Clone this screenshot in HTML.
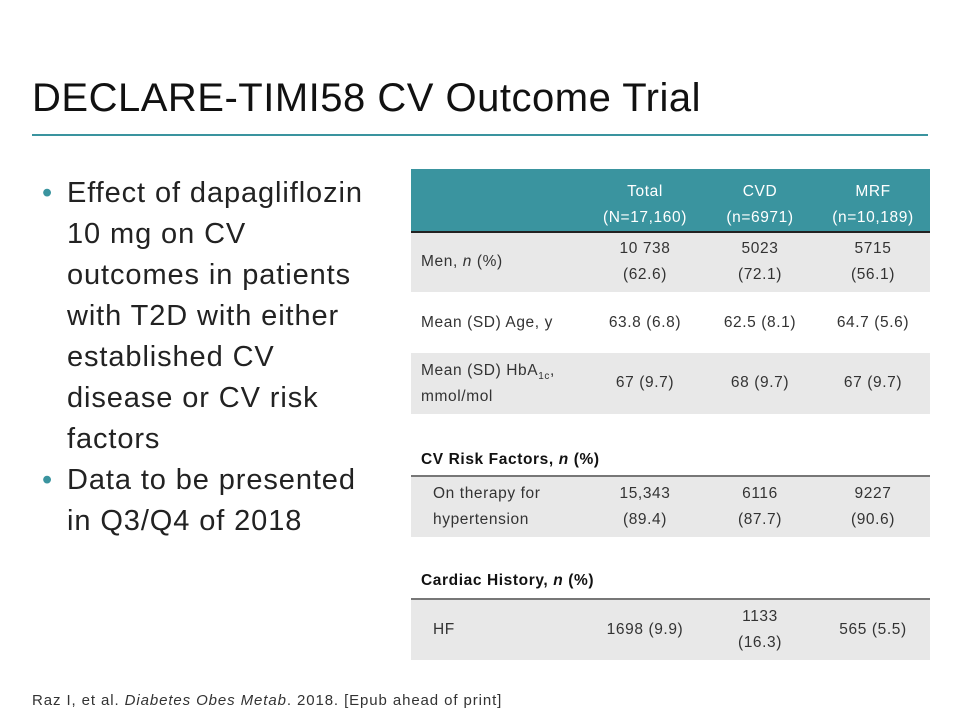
<!DOCTYPE html>
<html><head><meta charset="utf-8"><style>
body{margin:0;width:960px;height:720px;background:#fff;position:relative;overflow:hidden;font-family:"Liberation Sans",sans-serif;color:#222}
.a{position:absolute}
.t{font-size:15.5px;line-height:26px;color:#333;letter-spacing:0.6px;white-space:nowrap}
.c{text-align:center;width:120px}
.w{color:#fff}
</style></head><body>
<div class="a" style="left:32px;top:76px;font-size:40px;color:#111;letter-spacing:0.5px">DECLARE-TIMI58 CV Outcome Trial</div>
<div class="a" style="left:32px;top:134px;width:896px;height:2px;background:#3a949f"></div>
<div class="a" style="left:42px;top:173px;font-size:29px;line-height:41px;color:#222;width:360px;letter-spacing:0.9px;white-space:nowrap">
<div style="position:relative;padding-left:25px"><span style="position:absolute;left:0;color:#3a949f">•</span>Effect of dapagliflozin<br>10 mg on CV<br>outcomes in patients<br>with T2D with either<br>established CV<br>disease or CV risk<br>factors</div>
<div style="position:relative;padding-left:25px"><span style="position:absolute;left:0;color:#3a949f">•</span>Data to be presented<br>in Q3/Q4 of 2018</div>
</div>
<div class="a" style="left:411px;top:169px;width:519px;height:62px;background:#3a949f"></div>
<div class="a" style="left:411px;top:231px;width:519px;height:2px;background:#222"></div>
<div class="a" style="left:411px;top:233px;width:519px;height:59px;background:#e8e8e8"></div>
<div class="a" style="left:411px;top:353px;width:519px;height:61px;background:#e8e8e8"></div>
<div class="a" style="left:411px;top:475px;width:519px;height:2px;background:#777"></div>
<div class="a" style="left:411px;top:477px;width:519px;height:60px;background:#e8e8e8"></div>
<div class="a" style="left:411px;top:598px;width:519px;height:2px;background:#777"></div>
<div class="a" style="left:411px;top:600px;width:519px;height:60px;background:#e8e8e8"></div>

<div class="a t c w" style="left:585px;top:179px">Total<br>(N=17,160)</div>
<div class="a t c w" style="left:700px;top:179px">CVD<br>(n=6971)</div>
<div class="a t c w" style="left:813px;top:179px">MRF<br>(n=10,189)</div>

<div class="a t" style="left:421px;top:249px">Men, <i>n</i> (%)</div>
<div class="a t c" style="left:585px;top:236px">10 738<br>(62.6)</div>
<div class="a t c" style="left:700px;top:236px">5023<br>(72.1)</div>
<div class="a t c" style="left:813px;top:236px">5715<br>(56.1)</div>

<div class="a t" style="left:421px;top:310px">Mean (SD) Age, y</div>
<div class="a t c" style="left:585px;top:310px">63.8 (6.8)</div>
<div class="a t c" style="left:700px;top:310px">62.5 (8.1)</div>
<div class="a t c" style="left:813px;top:310px">64.7 (5.6)</div>

<div class="a t" style="left:421px;top:358px">Mean (SD) HbA<sub style="font-size:10px;line-height:0">1c</sub>,<br>mmol/mol</div>
<div class="a t c" style="left:585px;top:370px">67 (9.7)</div>
<div class="a t c" style="left:700px;top:370px">68 (9.7)</div>
<div class="a t c" style="left:813px;top:370px">67 (9.7)</div>

<div class="a t" style="left:421px;top:447px;font-weight:bold;color:#111">CV Risk Factors, <i>n</i> (%)</div>
<div class="a t" style="left:433px;top:481px">On therapy for<br>hypertension</div>
<div class="a t c" style="left:585px;top:481px">15,343<br>(89.4)</div>
<div class="a t c" style="left:700px;top:481px">6116<br>(87.7)</div>
<div class="a t c" style="left:813px;top:481px">9227<br>(90.6)</div>

<div class="a t" style="left:421px;top:568px;font-weight:bold;color:#111">Cardiac History, <i>n</i> (%)</div>
<div class="a t" style="left:433px;top:617px">HF</div>
<div class="a t c" style="left:585px;top:617px">1698 (9.9)</div>
<div class="a t c" style="left:700px;top:604px">1133<br>(16.3)</div>
<div class="a t c" style="left:813px;top:617px">565 (5.5)</div>

<div class="a" style="left:32px;top:692px;font-size:15px;color:#333;letter-spacing:0.9px">Raz I, et al. <i>Diabetes Obes Metab</i>. 2018. [Epub ahead of print]</div>
</body></html>
